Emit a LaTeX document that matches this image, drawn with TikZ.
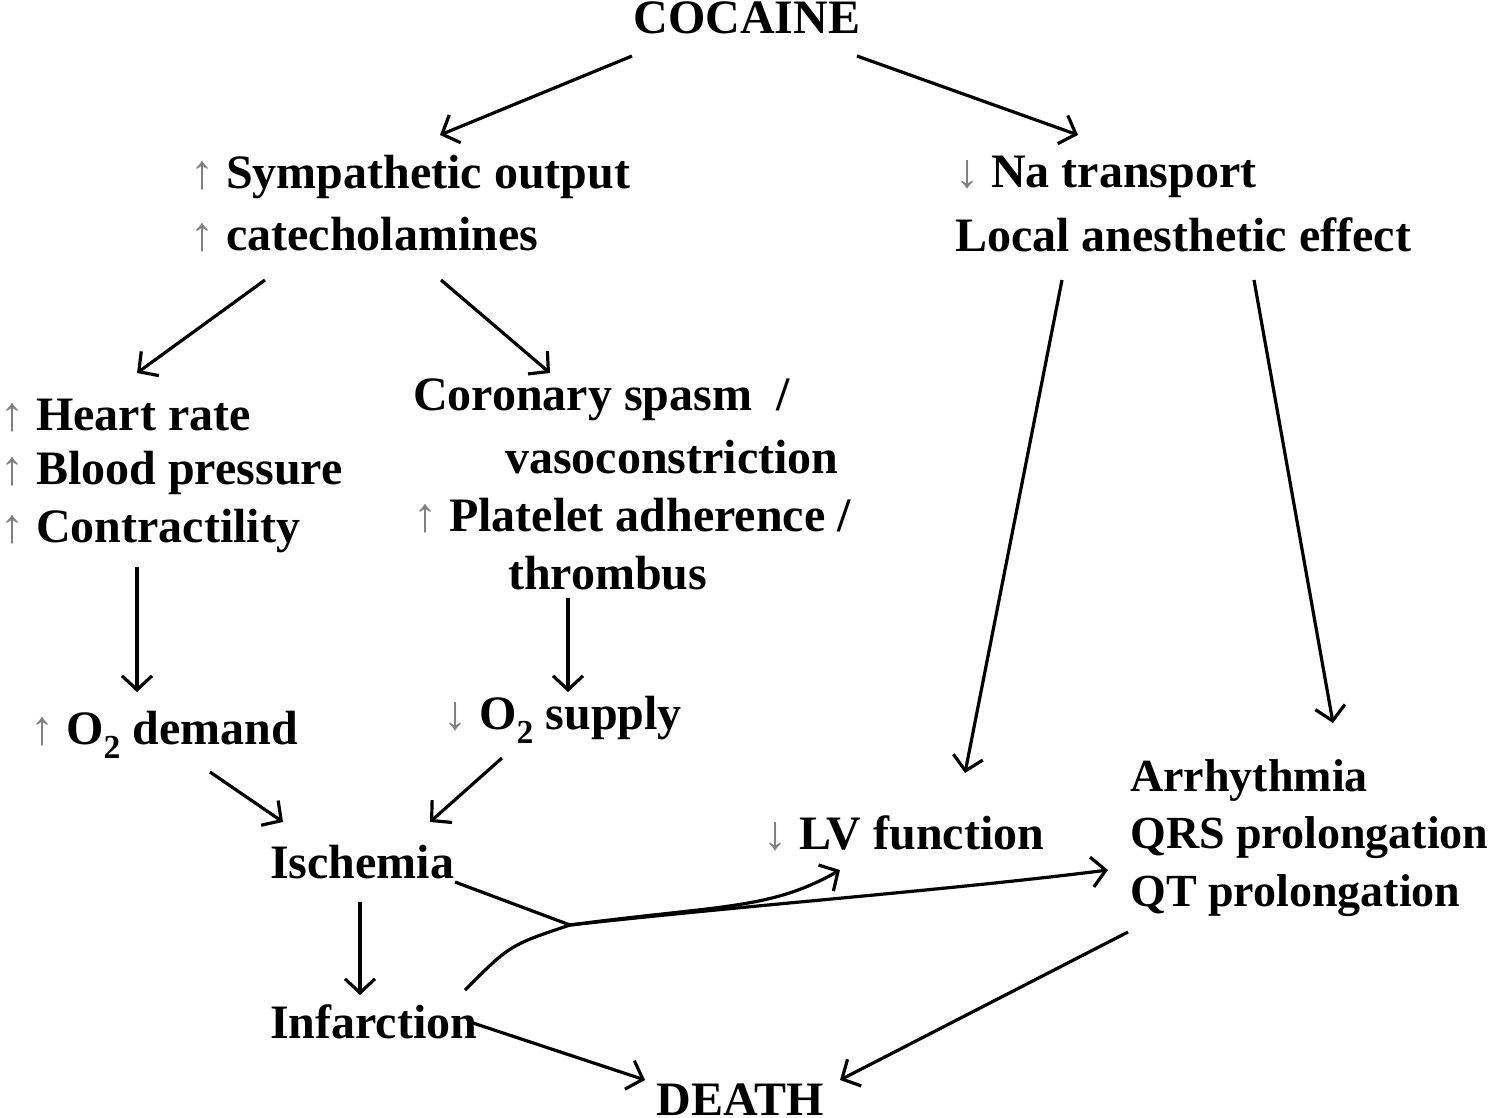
\documentclass[tikz,border=0pt]{standalone}
\usepackage{fontspec}
\setmainfont{Liberation Serif}
\usetikzlibrary{arrows.meta}
\begin{document}
\begin{tikzpicture}[x=1pt,y=-1pt,
  t/.style={anchor=west,inner sep=0pt,font=\fontsize{48}{52}\selectfont\bfseries},
  tr/.style={t,font=\fontsize{46}{50}\selectfont\bfseries},
  a/.style={line width=3.2pt,-{Straight Barb[length=14pt,width=30pt,line width=3.2pt]}},
  l/.style={line width=3.2pt}]
\newcommand{\up}{{\color{gray}\mdseries↑}}
\newcommand{\dn}{{\color{gray}\mdseries↓}}
\useasboundingbox (0,0) rectangle (1499,1117);
\node[t,anchor=center] (coc) at (747,18) {COCAINE};
\node[t] (s1) at (190,177) {\up{} Sympathetic output};
\node[t] (s2) at (190,235) {\up{} catecholamines};
\node[t] (n1) at (955,177) {\dn{} Na transport};
\node[t] (n2) at (955,235) {Local anesthetic effect};
\node[t] (h1) at (0,415) {\up{} Heart rate};
\node[t] (h2) at (0,473) {\up{} Blood pressure};
\node[t] (h3) at (0,531) {\up{} Contractility};
\node[t] (c1) at (413,400) {Coronary spasm\ \ /};
\node[t] (c2) at (505,457) {vasoconstriction};
\node[t] (c3) at (413,516) {\up{} Platelet adherence /};
\node[t] (c4) at (508,573) {thrombus};
\node[t] (od) at (30,735) {\up{} O\textsubscript{2} demand};
\node[t] (os) at (443,720) {\dn{} O\textsubscript{2} supply};
\node[t] (isc) at (270,862) {Ischemia};
\node[t] (inf) at (270,1022) {Infarction};
\node[t,anchor=center] (dea) at (740,1100) {DEATH};
\node[t] (lv) at (763,833) {\dn{} LV function};
\node[tr] (r1) at (1130,780) {Arrhythmia};
\node[tr] (r2) at (1130,838) {QRS prolongation};
\node[tr] (r3) at (1130,896) {QT prolongation};
\coordinate (j) at (570,925);
\coordinate (cocL) at (632,56); \coordinate (cocR) at (857,56);
\coordinate (symT) at (440,135); \coordinate (naT) at (1078,135);
\coordinate (symL) at (265,280); \coordinate (symR) at (441,280);
\coordinate (hrT) at (137,373); \coordinate (coT) at (550,373);
\coordinate (naL) at (1062,280); \coordinate (naR) at (1254,280);
\coordinate (lvT) at (965,773); \coordinate (arT) at (1333,723);
\coordinate (hrB) at (137,567); \coordinate (odT) at (137,692);
\coordinate (coB) at (568,598); \coordinate (osT) at (568,692);
\coordinate (odB) at (210,772); \coordinate (iscL) at (283,822);
\coordinate (osB) at (502,758); \coordinate (iscR) at (430,822);
\coordinate (iscB) at (360,902); \coordinate (infT) at (360,995);
\coordinate (iscE) at (455,882); \coordinate (infE) at (465,990);
\coordinate (lvL) at (840,870); \coordinate (arL) at (1108,870);
\coordinate (infR) at (470,1022); \coordinate (deaL) at (645,1080);
\coordinate (arB) at (1128,932); \coordinate (deaR) at (840,1080);
\draw[a] (cocL) -- (symT);
\draw[a] (cocR) -- (naT);
\draw[a] (symL) -- (hrT);
\draw[a] (symR) -- (coT);
\draw[a] (naL) -- (lvT);
\draw[a] (naR) -- (arT);
\draw[a] (hrB) -- (odT);
\draw[a] (coB) -- (osT);
\draw[a] (odB) -- (iscL);
\draw[a] (osB) -- (iscR);
\draw[a] (iscB) -- (infT);
\draw[l] (iscE) -- (j);
\draw[l] (infE) .. controls (510,945) .. (j);
\draw[a] (j) .. controls (720,905) and (770,910) .. (lvL);
\draw[a] (j) .. controls (750,905) and (950,890) .. (arL);
\draw[a] (infR) -- (deaL);
\draw[a] (arB) -- (deaR);
\end{tikzpicture}
\end{document}
